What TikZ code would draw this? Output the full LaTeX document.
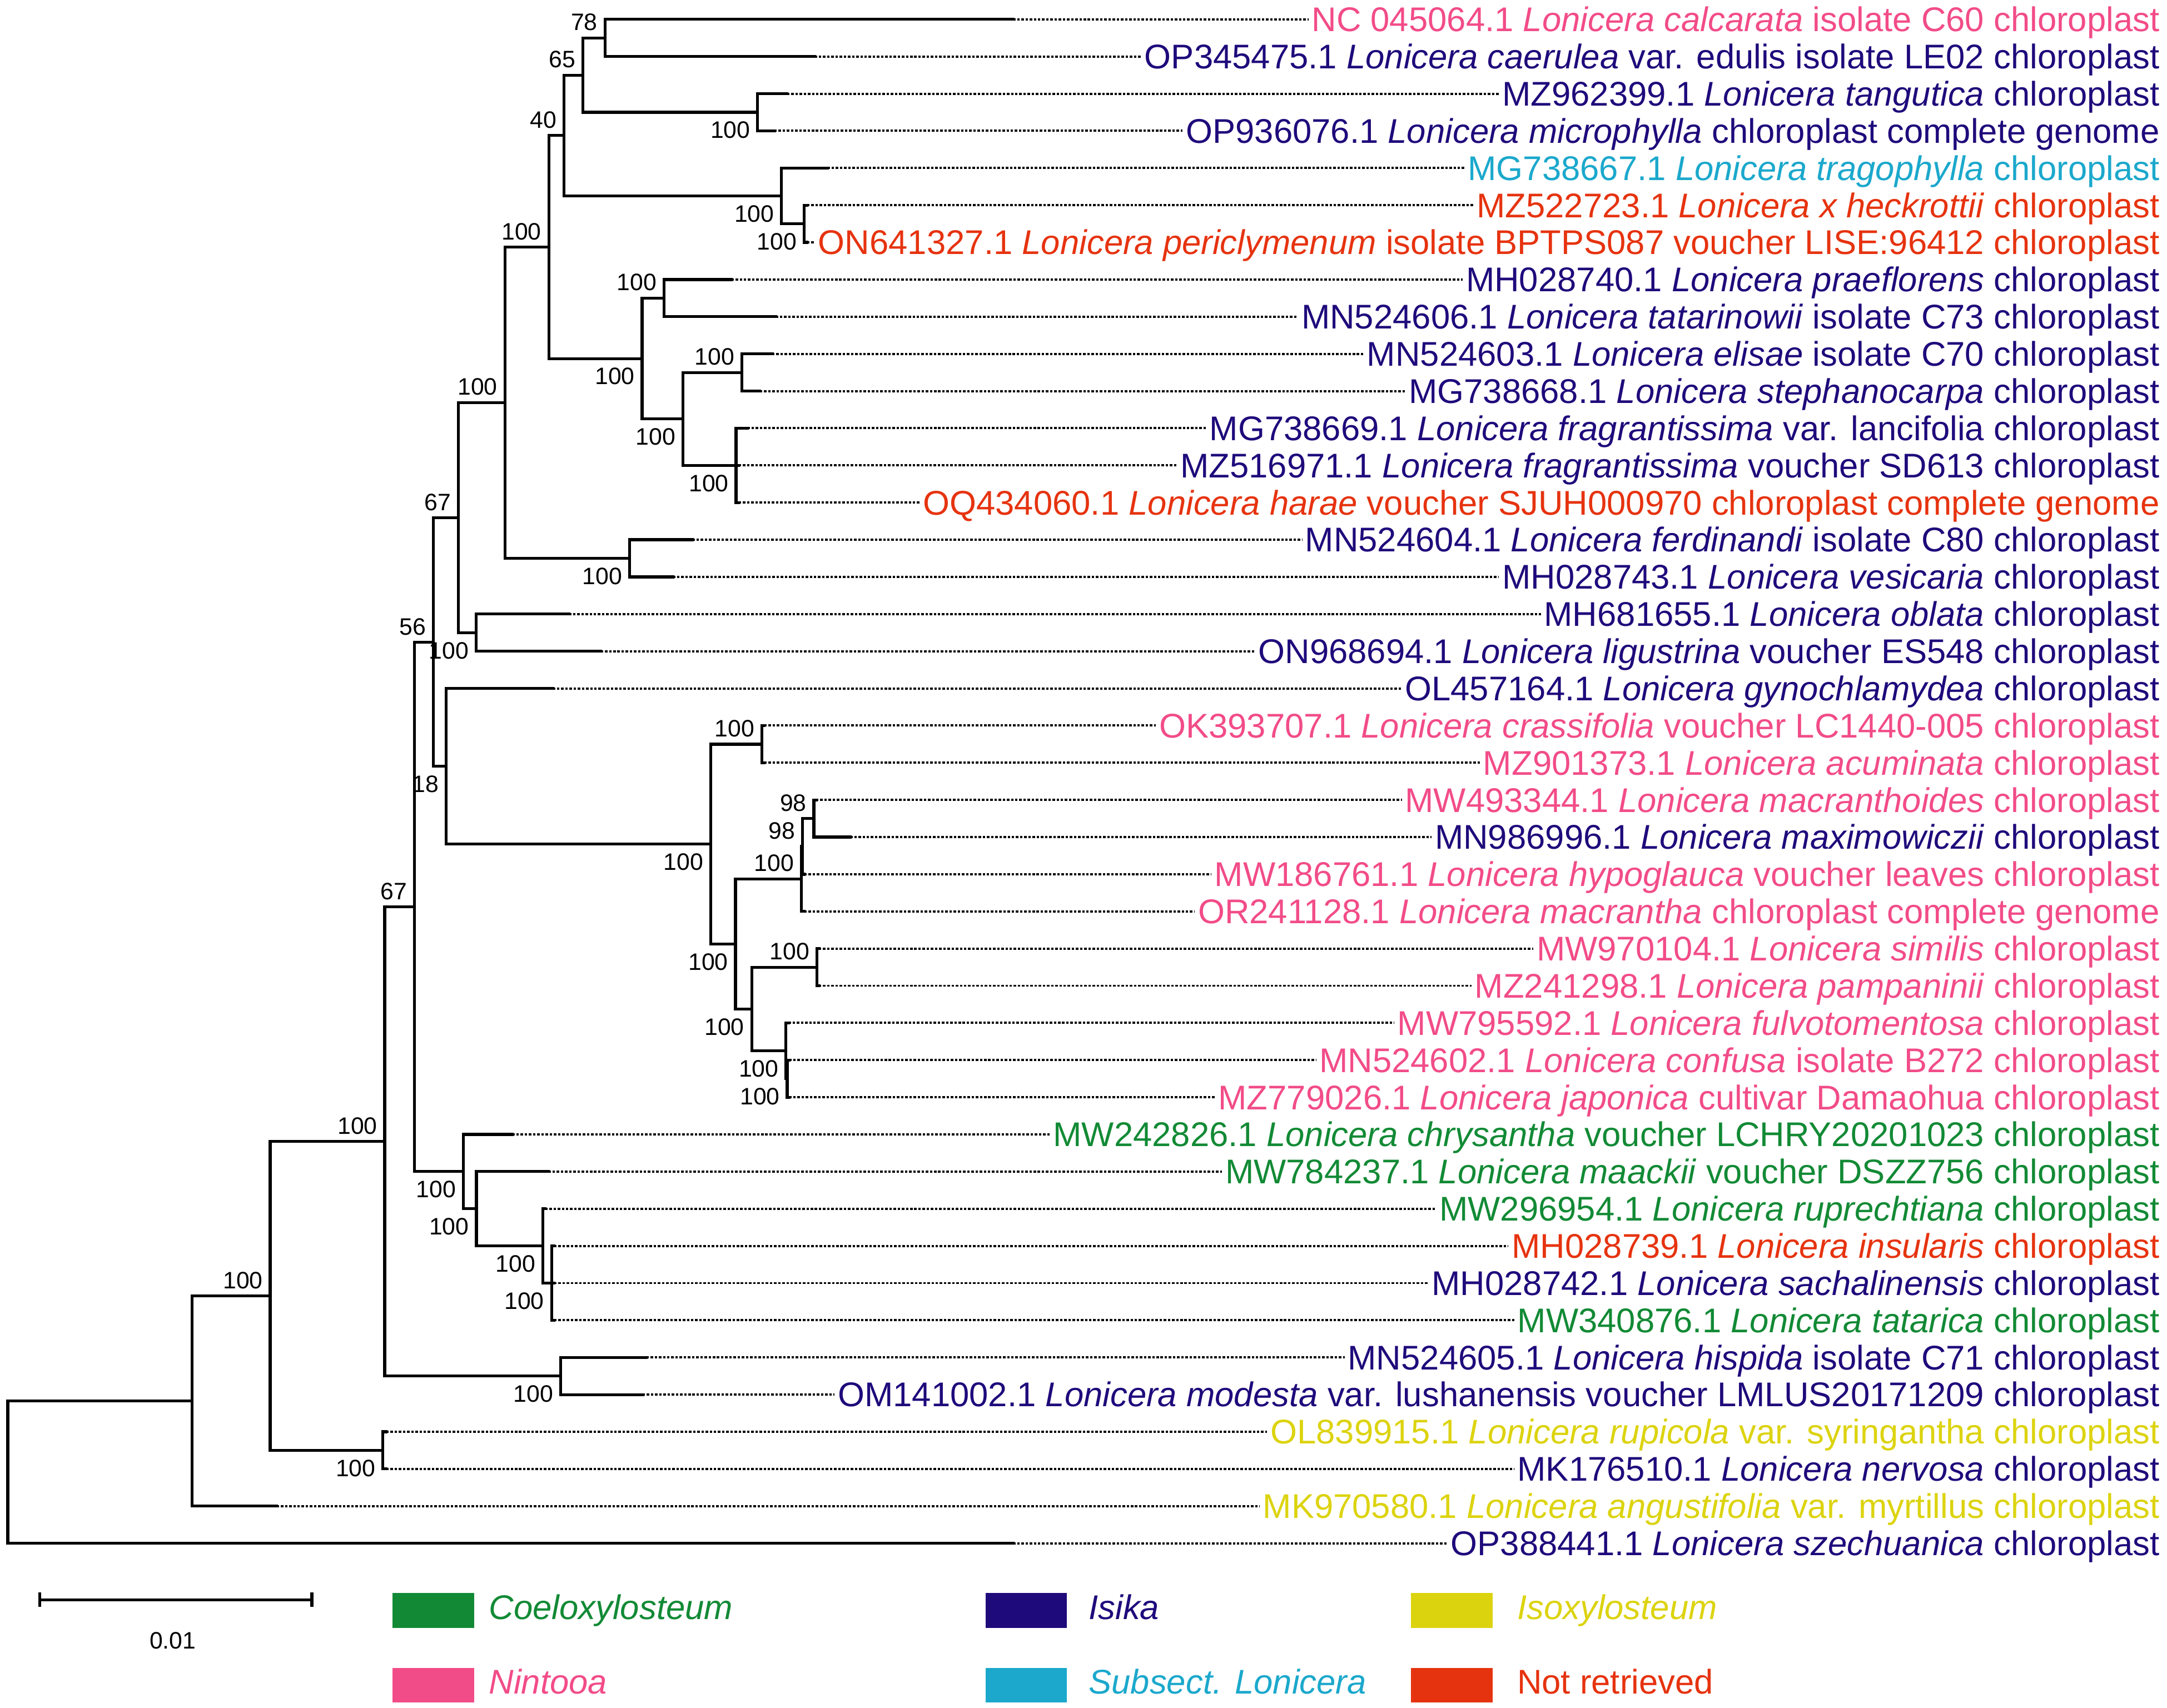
\documentclass[tikz,border=0pt]{standalone}
\usepackage{fontspec}
\setmainfont{Liberation Sans}
\usepackage{xcolor}
\usetikzlibrary{positioning}

\definecolor{coelo}{HTML}{128A35}
\definecolor{isika}{HTML}{1F0A7B}
\definecolor{isoxy}{HTML}{DCD30F}
\definecolor{nintooa}{HTML}{F24C88}
\definecolor{subsect}{HTML}{1BA8CC}
\definecolor{notret}{HTML}{E6330F}

\tikzset{
    br/.style={line width=1.05pt, line join=miter, line cap=rect},
    dotl/.style={line width=0.8pt, dash pattern=on 0.9pt off 0.6pt, shorten >=1pt},
    tax/.style={anchor=base east, inner sep=0pt, yshift=-4.4pt, font=\fontsize{12.4pt}{14pt}\selectfont},
    sup/.style={anchor=base east, inner sep=0pt, xshift=-2.5pt, yshift=2.7pt, font=\fontsize{8.6pt}{10pt}\selectfont},
    sdn/.style={anchor=base east, inner sep=0pt, xshift=-2.5pt, yshift=-9.4pt, font=\fontsize{8.6pt}{10pt}\selectfont},
    lgbox/.style={minimum width=29.5pt, minimum height=12.5pt, inner sep=0pt},
    lgtext/.style={inner sep=0pt, text height=8.9pt, text depth=2.6pt, font=\fontsize{12.4pt}{14pt}\selectfont},
}

\begin{document}
\begin{tikzpicture}[x=0.5pt, y=-0.5pt]
    \useasboundingbox (0,0) rectangle (1568,1236);

    % leaf ends
    \coordinate (l1) at (733,14.0);
    \coordinate (l2) at (589.5,40.9);
    \coordinate (l3) at (569.5,67.8);
    \coordinate (l4) at (560.3,94.7);
    \coordinate (l5) at (598.7,121.6);
    \coordinate (l6) at (584,148.5);
    \coordinate (l7) at (584,175.4);
    \coordinate (l8) at (529.2,202.3);
    \coordinate (l9) at (561.3,229.2);
    \coordinate (l10) at (558.7,256.1);
    \coordinate (l11) at (549.8,283.0);
    \coordinate (l12) at (540.8,309.9);
    \coordinate (l13) at (534.5,336.8);
    \coordinate (l14) at (534.5,363.7);
    \coordinate (l15) at (501,390.6);
    \coordinate (l16) at (486.9,417.5);
    \coordinate (l17) at (411.6,444.4);
    \coordinate (l18) at (434.7,471.3);
    \coordinate (l19) at (400,498.2);
    \coordinate (l20) at (553,525.1);
    \coordinate (l21) at (553,552.0);
    \coordinate (l22) at (590.5,578.9);
    \coordinate (l23) at (615.1,605.8);
    \coordinate (l24) at (582,632.7);
    \coordinate (l25) at (582,659.6);
    \coordinate (l26) at (592.5,686.5);
    \coordinate (l27) at (592.5,713.4);
    \coordinate (l28) at (570.5,740.3);
    \coordinate (l29) at (571,767.2);
    \coordinate (l30) at (571,794.1);
    \coordinate (l31) at (370.7,821.0);
    \coordinate (l32) at (396.8,847.9);
    \coordinate (l33) at (394.5,874.8);
    \coordinate (l34) at (401,901.7);
    \coordinate (l35) at (401,928.6);
    \coordinate (l36) at (401,955.5);
    \coordinate (l37) at (467.7,982.4);
    \coordinate (l38) at (465,1009.3);
    \coordinate (l39) at (279.5,1036.2);
    \coordinate (l40) at (279.5,1063.1);
    \coordinate (l41) at (200.2,1090.0);
    \coordinate (l42) at (733,1116.9);

    % inner nodes
    \coordinate (root) at (5.6,1065.5);
    \coordinate (n139) at (139.1,1014);
    \coordinate (n195) at (195.5,937.9);
    \coordinate (n3940) at (277.1,1049.7);
    \coordinate (n278) at (278.4,826.1);
    \coordinate (n3738) at (405.7,995.9);
    \coordinate (n300) at (299.8,656.4);
    \coordinate (n335) at (335.3,847.9);
    \coordinate (n345) at (344.7,874.8);
    \coordinate (n393) at (392.8,901.7);
    \coordinate (n399) at (399.1,928.6);
    \coordinate (n313) at (313.5,464.9);
    \coordinate (n331) at (331.6,374.7);
    \coordinate (n1718) at (344.6,457.9);
    \coordinate (n365) at (365.3,291.4);
    \coordinate (n1516) at (455.6,404);
    \coordinate (n397) at (397.1,178.8);
    \coordinate (n40) at (408.1,98.1);
    \coordinate (n65) at (421.7,54.4);
    \coordinate (n78) at (437.7,27.5);
    \coordinate (n34) at (548.2,81.3);
    \coordinate (n57) at (565.5,141.8);
    \coordinate (n67) at (581.8,162);
    \coordinate (n464) at (464.6,259.5);
    \coordinate (n89) at (480.5,215.7);
    \coordinate (n494) at (494.1,303.2);
    \coordinate (n1011) at (536.9,269.6);
    \coordinate (n1214) at (532.6,336.8);
    \coordinate (n322) at (322.7,554.6);
    \coordinate (n514) at (514.3,610.9);
    \coordinate (n2021) at (551.3,538.6);
    \coordinate (n532) at (532.2,683.2);
    \coordinate (nX) at (579.8,636.1);
    \coordinate (nY) at (580.8,612.5);
    \coordinate (nZ) at (588.9,592.4);
    \coordinate (n543) at (543.9,730.3);
    \coordinate (n2627) at (591,700);
    \coordinate (nP) at (568.7,760.5);
    \coordinate (nQ) at (569.6,780.7);

    % branches
    \draw[br] (root) |- (n139) (root) |- (l42);
    \draw[br] (n139) |- (n195) (n139) |- (l41);
    \draw[br] (n195) |- (n278) (n195) |- (n3940);
    \draw[br] (n3940) |- (l39) (n3940) |- (l40);
    \draw[br] (n278) |- (n300) (n278) |- (n3738);
    \draw[br] (n3738) |- (l37) (n3738) |- (l38);
    \draw[br] (n300) |- (n313) (n300) |- (n335);
    \draw[br] (n335) |- (l31) (n335) |- (n345);
    \draw[br] (n345) |- (l32) (n345) |- (n393);
    \draw[br] (n393) |- (l33) (n393) |- (n399);
    \draw[br] (n399) |- (l34) (n399) |- (l35) (n399) |- (l36);
    \draw[br] (n313) |- (n331) (n313) |- (n322);
    \draw[br] (n331) |- (n365) (n331) |- (n1718);
    \draw[br] (n1718) |- (l17) (n1718) |- (l18);
    \draw[br] (n365) |- (n397) (n365) |- (n1516);
    \draw[br] (n1516) |- (l15) (n1516) |- (l16);
    \draw[br] (n397) |- (n40) (n397) |- (n464);
    \draw[br] (n40) |- (n65) (n40) |- (n57);
    \draw[br] (n65) |- (n78) (n65) |- (n34);
    \draw[br] (n78) |- (l1) (n78) |- (l2);
    \draw[br] (n34) |- (l3) (n34) |- (l4);
    \draw[br] (n57) |- (l5) (n57) |- (n67);
    \draw[br] (n67) |- (l6) (n67) |- (l7);
    \draw[br] (n464) |- (n89) (n464) |- (n494);
    \draw[br] (n89) |- (l8) (n89) |- (l9);
    \draw[br] (n494) |- (n1011) (n494) |- (n1214);
    \draw[br] (n1011) |- (l10) (n1011) |- (l11);
    \draw[br] (n1214) |- (l12) (n1214) |- (l13) (n1214) |- (l14);
    \draw[br] (n322) |- (l19) (n322) |- (n514);
    \draw[br] (n514) |- (n2021) (n514) |- (n532);
    \draw[br] (n2021) |- (l20) (n2021) |- (l21);
    \draw[br] (n532) |- (nX) (n532) |- (n543);
    \draw[br] (nX) |- (nY) (nX) |- (l25);
    \draw[br] (nY) |- (nZ) (nY) |- (l24);
    \draw[br] (nZ) |- (l22) (nZ) |- (l23);
    \draw[br] (n543) |- (n2627) (n543) |- (nP);
    \draw[br] (n2627) |- (l26) (n2627) |- (l27);
    \draw[br] (nP) |- (l28) (nP) |- (nQ);
    \draw[br] (nQ) |- (l29) (nQ) |- (l30);

    % bootstrap values
    \node[sup] (s78) at (n78) {78};
    \node[sup] (s65) at (n65) {65};
    \node[sdn] (s34) at (n34) {100};
    \node[sup] (s40) at (n40) {40};
    \node[sdn] (s57) at (n57) {100};
    \node[sdn] (s67) at (n67) {100};
    \node[sup] (s397) at (n397) {100};
    \node[sup] (s89) at (n89) {100};
    \node[sdn] (s464) at (n464) {100};
    \node[sup] (s1011) at (n1011) {100};
    \node[sdn] (s494) at (n494) {100};
    \node[sdn] (s1214) at (n1214) {100};
    \node[sup] (s365) at (n365) {100};
    \node[sdn] (s1516) at (n1516) {100};
    \node[sup] (s331) at (n331) {67};
    \node[sdn] (s1718) at (n1718) {100};
    \node[sup] (s313) at (n313) {56};
    \node[sdn] (s322) at (n322) {18};
    \node[sup] (s2021) at (n2021) {100};
    \node[sdn] (s514) at (n514) {100};
    \node[sdn] (s532) at (n532) {100};
    \node[sup] (sX) at (nX) {100};
    \node[sup] (sY) at (nY) {98};
    \node[sup] (sZ) at (nZ) {98};
    \node[sdn] (s543) at (n543) {100};
    \node[sup] (s2627) at (n2627) {100};
    \node[sdn] (sP) at (nP) {100};
    \node[sdn] (sQ) at (nQ) {100};
    \node[sup] (s300) at (n300) {67};
    \node[sdn] (s335) at (n335) {100};
    \node[sdn] (s345) at (n345) {100};
    \node[sdn] (s393) at (n393) {100};
    \node[sdn] (s399) at (n399) {100};
    \node[sup] (s278) at (n278) {100};
    \node[sdn] (s3738) at (n3738) {100};
    \node[sup] (s195) at (n195) {100};
    \node[sdn] (s3940) at (n3940) {100};

    % taxa
    \node[tax, nintooa] (t1) at (1563,14.0) {NC 045064.1 \textit{Lonicera calcarata} isolate C60 chloroplast};
    \node[tax, isika] (t2) at (1563,40.9) {OP345475.1 \textit{Lonicera caerulea} var. edulis isolate LE02 chloroplast};
    \node[tax, isika] (t3) at (1563,67.8) {MZ962399.1 \textit{Lonicera tangutica} chloroplast};
    \node[tax, isika] (t4) at (1563,94.7) {OP936076.1 \textit{Lonicera microphylla} chloroplast complete genome};
    \node[tax, subsect] (t5) at (1563,121.6) {MG738667.1 \textit{Lonicera tragophylla} chloroplast};
    \node[tax, notret] (t6) at (1563,148.5) {MZ522723.1 \textit{Lonicera x heckrottii} chloroplast};
    \node[tax, notret] (t7) at (1563,175.4) {ON641327.1 \textit{Lonicera periclymenum} isolate BPTPS087 voucher LISE:96412 chloroplast};
    \node[tax, isika] (t8) at (1563,202.3) {MH028740.1 \textit{Lonicera praeflorens} chloroplast};
    \node[tax, isika] (t9) at (1563,229.2) {MN524606.1 \textit{Lonicera tatarinowii} isolate C73 chloroplast};
    \node[tax, isika] (t10) at (1563,256.1) {MN524603.1 \textit{Lonicera elisae} isolate C70 chloroplast};
    \node[tax, isika] (t11) at (1563,283.0) {MG738668.1 \textit{Lonicera stephanocarpa} chloroplast};
    \node[tax, isika] (t12) at (1563,309.9) {MG738669.1 \textit{Lonicera fragrantissima} var. lancifolia chloroplast};
    \node[tax, isika] (t13) at (1563,336.8) {MZ516971.1 \textit{Lonicera fragrantissima} voucher SD613 chloroplast};
    \node[tax, notret] (t14) at (1563,363.7) {OQ434060.1 \textit{Lonicera harae} voucher SJUH000970 chloroplast complete genome};
    \node[tax, isika] (t15) at (1563,390.6) {MN524604.1 \textit{Lonicera ferdinandi} isolate C80 chloroplast};
    \node[tax, isika] (t16) at (1563,417.5) {MH028743.1 \textit{Lonicera vesicaria} chloroplast};
    \node[tax, isika] (t17) at (1563,444.4) {MH681655.1 \textit{Lonicera oblata} chloroplast};
    \node[tax, isika] (t18) at (1563,471.3) {ON968694.1 \textit{Lonicera ligustrina} voucher ES548 chloroplast};
    \node[tax, isika] (t19) at (1563,498.2) {OL457164.1 \textit{Lonicera gynochlamydea} chloroplast};
    \node[tax, nintooa] (t20) at (1563,525.1) {OK393707.1 \textit{Lonicera crassifolia} voucher LC1440-005 chloroplast};
    \node[tax, nintooa] (t21) at (1563,552.0) {MZ901373.1 \textit{Lonicera acuminata} chloroplast};
    \node[tax, nintooa] (t22) at (1563,578.9) {MW493344.1 \textit{Lonicera macranthoides} chloroplast};
    \node[tax, isika] (t23) at (1563,605.8) {MN986996.1 \textit{Lonicera maximowiczii} chloroplast};
    \node[tax, nintooa] (t24) at (1563,632.7) {MW186761.1 \textit{Lonicera hypoglauca} voucher leaves chloroplast};
    \node[tax, nintooa] (t25) at (1563,659.6) {OR241128.1 \textit{Lonicera macrantha} chloroplast complete genome};
    \node[tax, nintooa] (t26) at (1563,686.5) {MW970104.1 \textit{Lonicera similis} chloroplast};
    \node[tax, nintooa] (t27) at (1563,713.4) {MZ241298.1 \textit{Lonicera pampaninii} chloroplast};
    \node[tax, nintooa] (t28) at (1563,740.3) {MW795592.1 \textit{Lonicera fulvotomentosa} chloroplast};
    \node[tax, nintooa] (t29) at (1563,767.2) {MN524602.1 \textit{Lonicera confusa} isolate B272 chloroplast};
    \node[tax, nintooa] (t30) at (1563,794.1) {MZ779026.1 \textit{Lonicera japonica} cultivar Damaohua chloroplast};
    \node[tax, coelo] (t31) at (1563,821.0) {MW242826.1 \textit{Lonicera chrysantha} voucher LCHRY20201023 chloroplast};
    \node[tax, coelo] (t32) at (1563,847.9) {MW784237.1 \textit{Lonicera maackii} voucher DSZZ756 chloroplast};
    \node[tax, coelo] (t33) at (1563,874.8) {MW296954.1 \textit{Lonicera ruprechtiana} chloroplast};
    \node[tax, notret] (t34) at (1563,901.7) {MH028739.1 \textit{Lonicera insularis} chloroplast};
    \node[tax, isika] (t35) at (1563,928.6) {MH028742.1 \textit{Lonicera sachalinensis} chloroplast};
    \node[tax, coelo] (t36) at (1563,955.5) {MW340876.1 \textit{Lonicera tatarica} chloroplast};
    \node[tax, isika] (t37) at (1563,982.4) {MN524605.1 \textit{Lonicera hispida} isolate C71 chloroplast};
    \node[tax, isika] (t38) at (1563,1009.3) {OM141002.1 \textit{Lonicera modesta} var. lushanensis voucher LMLUS20171209 chloroplast};
    \node[tax, isoxy] (t39) at (1563,1036.2) {OL839915.1 \textit{Lonicera rupicola} var. syringantha chloroplast};
    \node[tax, isika] (t40) at (1563,1063.1) {MK176510.1 \textit{Lonicera nervosa} chloroplast};
    \node[tax, isoxy] (t41) at (1563,1090.0) {MK970580.1 \textit{Lonicera angustifolia} var. myrtillus chloroplast};
    \node[tax, isika] (t42) at (1563,1116.9) {OP388441.1 \textit{Lonicera szechuanica} chloroplast};

    \foreach \i in {1,...,42}
        \draw[dotl] (l\i) -- (l\i -| t\i.west);

    % scale bar
    \coordinate (sb0) at (28.7,1157.8);
    \coordinate (sb1) at (225.7,1157.8);
    \draw[br] (sb0) -- (sb1);
    \draw[br, line cap=butt] ([yshift=2.6pt]sb0) -- ([yshift=-2.6pt]sb0);
    \draw[br, line cap=butt] ([yshift=2.6pt]sb1) -- ([yshift=-2.6pt]sb1);
    \node[font=\fontsize{8.6pt}{10pt}\selectfont, inner sep=0pt] (sbl) at (125,1187.5) {0.01};

    % legend
    \node[lgbox, fill=coelo] (k1) at (313.5,1165.5) {};
    \node[lgbox, fill=isika] (k2) at (742.5,1165.5) {};
    \node[lgbox, fill=isoxy] (k3) at (1050.5,1165.5) {};
    \node[lgbox, fill=nintooa] (k4) at (313.5,1219.5) {};
    \node[lgbox, fill=subsect] (k5) at (742.5,1219.5) {};
    \node[lgbox, fill=notret] (k6) at (1050.5,1219.5) {};
    \node[lgtext, coelo, right=5pt of k1] (k1t) {\textit{Coeloxylosteum}};
    \node[lgtext, isika, right=7.5pt of k2] (k2t) {\textit{Isika}};
    \node[lgtext, isoxy, right=8.5pt of k3] (k3t) {\textit{Isoxylosteum}};
    \node[lgtext, nintooa, right=5pt of k4] (k4t) {\textit{Nintooa}};
    \node[lgtext, subsect, right=7.5pt of k5] (k5t) {\textit{Subsect. Lonicera}};
    \node[lgtext, notret, right=8.5pt of k6] (k6t) {Not retrieved};
\end{tikzpicture}
\end{document}
